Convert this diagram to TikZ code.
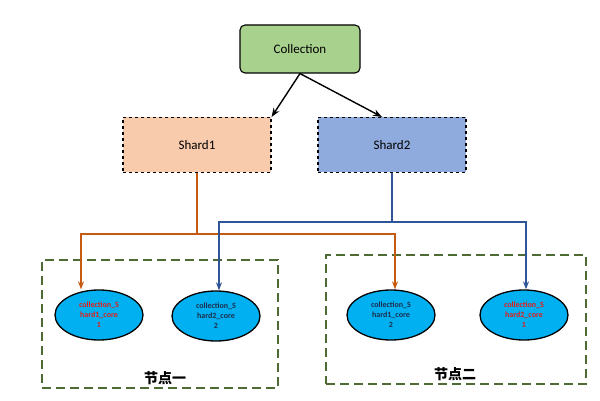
\documentclass[tikz,border=0pt]{standalone}
\usepackage{fontspec}
\setmainfont{Carlito}
\newfontfamily\cjk{Noto Sans CJK SC}
\usetikzlibrary{shapes.geometric,arrows.meta}
\definecolor{cgreen}{HTML}{A9D18E}
\definecolor{corange}{HTML}{F8CBAD}
\definecolor{cblue}{HTML}{8FAADC}
\definecolor{lorange}{HTML}{C55A11}
\definecolor{lblue}{HTML}{2F5597}
\definecolor{cyanf}{HTML}{00B0F0}
\definecolor{dgreen}{HTML}{4E6B34}
\definecolor{tred}{HTML}{E0201A}
\definecolor{tnavy}{HTML}{1F2D4D}
\begin{document}
\begin{tikzpicture}[x=1pt,y=-1pt,
  shardbox/.style={draw,dashed,line width=1.1pt,minimum width=148pt,minimum height=55pt,font=\fontsize{13}{15}\selectfont},
  core/.style={ellipse,draw,line width=1.3pt,fill=cyanf,minimum width=88pt,minimum height=50pt,font=\bfseries\fontsize{8}{10}\selectfont,align=center,inner sep=0pt},
  nodebox/.style={draw=dgreen,line width=1.3pt,dash pattern=on 9pt off 5pt},
  oarr/.style={draw=lorange,line width=1.4pt,-{Stealth[length=8pt]}},
  barr/.style={draw=lblue,line width=1.4pt,-{Stealth[length=8pt]}}]
\useasboundingbox (0,0) rectangle (600,401);
\node[draw,line width=1.1pt,rounded corners=5pt,fill=cgreen,minimum width=120pt,minimum height=48pt,font=\fontsize{13}{15}\selectfont] (col) at (300,49) {Collection};
\node[shardbox,fill=corange] (s1) at (197,145) {Shard1};
\node[shardbox,fill=cblue] (s2) at (392,145) {Shard2};
\draw[line width=1.4pt,-{Stealth[length=9pt]}] (col.south) -- (s1.north east);
\draw[line width=1.4pt,-{Stealth[length=9pt]}] (col.south) -- ([xshift=-10pt]s2.north);
\node[nodebox,minimum width=236pt,minimum height=128pt] (n1) at (160,324) {};
\node[nodebox,minimum width=260pt,minimum height=129pt] (n2) at (456,319.5) {};
\node[font=\cjk\bfseries\fontsize{14}{16}\selectfont] (l1) at (165,378) {节点一};
\node[font=\cjk\bfseries\fontsize{14}{16}\selectfont] (l2) at (455,374) {节点二};
\node[core,text=tred] (e1) at (99,315) {collection\_S\\hard1\_core\\1};
\node[core,text=tnavy] (e2) at (216,316) {collection\_S\\hard2\_core\\2};
\node[core,text=tnavy] (e3) at (391,315) {collection\_S\\hard1\_core\\2};
\node[core,text=tred] (e4) at (524,315) {collection\_S\\hard2\_core\\1};
\coordinate (o1) at (197,234);
\coordinate (b1) at (392,222);
\draw[lorange,line width=1.4pt] (s1.south) -- (o1);
\draw[oarr] (o1) -| ([xshift=-18pt]e1.north);
\draw[oarr] (o1) -| ([xshift=4pt]e3.north);
\draw[lblue,line width=1.4pt] (s2.south) -- (b1);
\draw[barr] (b1) -| ([xshift=3pt]e2.north);
\draw[barr] (b1) -| ([xshift=2pt]e4.north);
\end{tikzpicture}
\end{document}
